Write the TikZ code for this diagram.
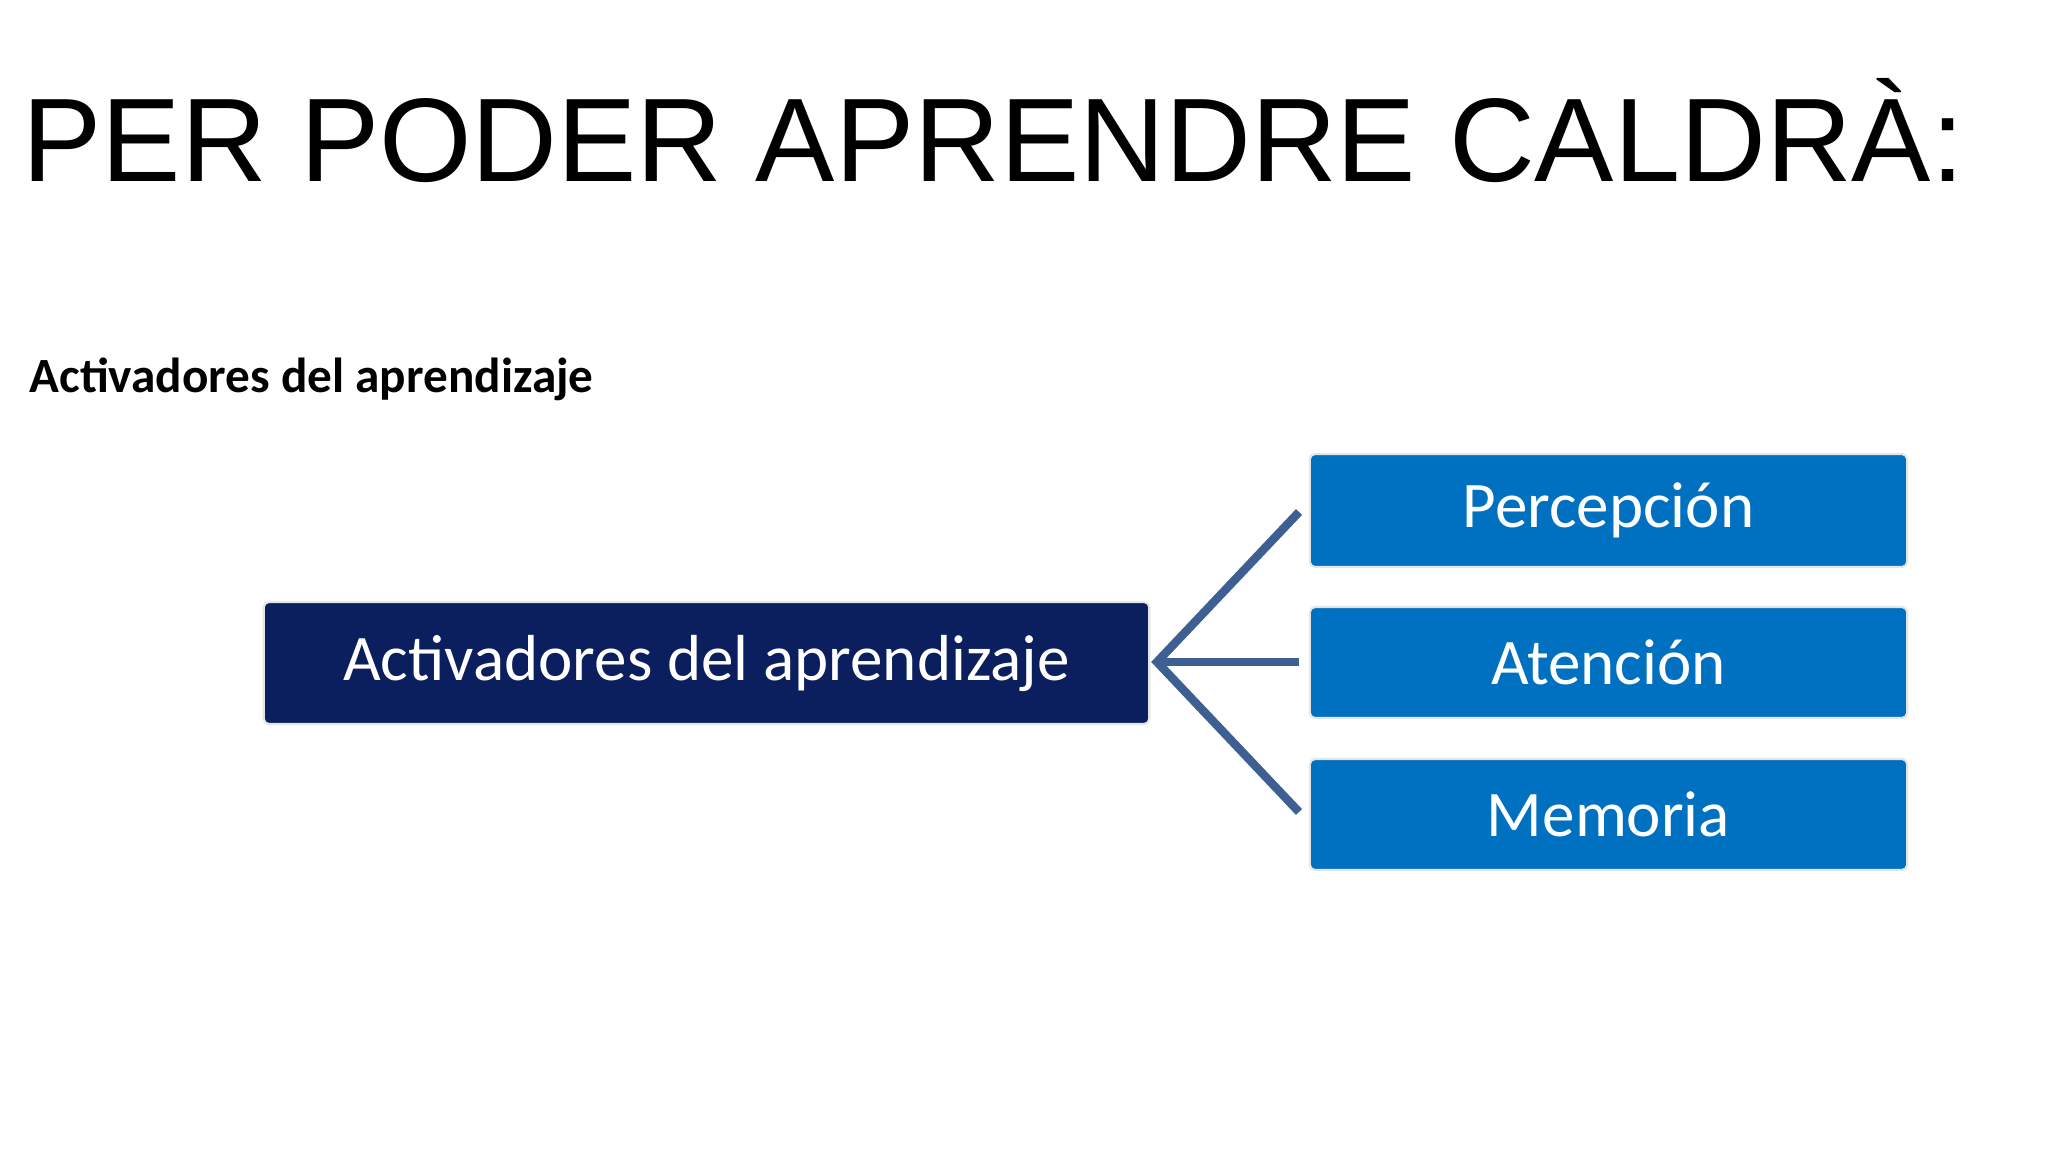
\documentclass[tikz,border=0pt]{standalone}
\usepackage{fontspec}
\setmainfont{Liberation Sans}
\newfontfamily\calfont{Carlito}
\definecolor{navy}{HTML}{0B1F5E}
\definecolor{blu}{HTML}{0070C0}
\definecolor{lnk}{HTML}{3D5F92}
\tikzset{
 box/.style={draw=white!80!gray,line width=0.6pt,rounded corners=1.5pt,text=white,font=\calfont\fontsize{18.5}{22}\selectfont,inner sep=0pt},
 lk/.style={draw=lnk,line width=2.4pt}
}
\begin{document}
\begin{tikzpicture}[x=0.01cm,y=-0.01cm]
\useasboundingbox (0,0) rectangle (2048,1152);
\node[anchor=west,font=\fontsize{33.8}{40}\selectfont,inner sep=0pt] (t) at (22,131) {PER PODER APRENDRE CALDRÀ:};
\node[anchor=west,font=\calfont\bfseries\fontsize{14}{17}\selectfont,inner sep=0pt] (s) at (29,379) {Activadores del aprendizaje};
\node[box,fill=navy,minimum width=8.85cm,minimum height=1.22cm] (a) at (706.5,663) {Activadores del aprendizaje};
\node[box,fill=blu,minimum width=5.97cm,minimum height=1.13cm] (p) at (1608.5,510.5) {Percepción};
\node[box,fill=blu,minimum width=5.97cm,minimum height=1.11cm] (b) at (1608.5,662.5) {Atención};
\node[box,fill=blu,minimum width=5.97cm,minimum height=1.11cm] (m) at (1608.5,814.5) {Memoria};
\coordinate (h) at (1157,662);
\draw[lk] (1299,512) -- (h) -- (1299,812);
\draw[lk] (h) -- (1299,662);
\end{tikzpicture}
\end{document}
